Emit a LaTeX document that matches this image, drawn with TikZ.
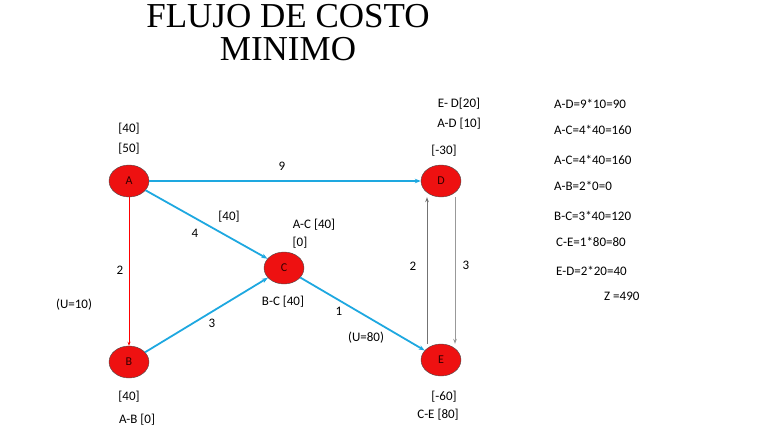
\documentclass[tikz,border=0pt]{standalone}
\usepackage{fontspec}
\setmainfont{Carlito}
\newfontfamily\titlefont{Liberation Serif}
\usetikzlibrary{arrows.meta,shapes.geometric}
\definecolor{nodered}{HTML}{EE1111}
\definecolor{flowblue}{HTML}{1EA8E0}
\begin{document}
\begin{tikzpicture}[x=1pt,y=-1pt,
  vtx/.style={ellipse,draw=black!70,fill=nodered,minimum width=40pt,minimum height=32pt,inner sep=0pt,font=\fontsize{12}{14}\selectfont,text=black!80!red},
  lbl/.style={font=\fontsize{13}{15}\selectfont,inner sep=1pt},
  blue/.style={draw=flowblue,line width=1.8pt,-{Stealth[length=6pt]}},
  thin/.style={draw=gray!80,line width=0.8pt,-{Stealth[length=5pt]}}]
\useasboundingbox (0,0) rectangle (768,433);
\node[font=\titlefont\fontsize{35}{33}\selectfont,align=center] (title) at (288,33) {FLUJO DE COSTO\\MINIMO};
\node[vtx] (A) at (129,181) {A};
\node[vtx] (B) at (129,362) {B};
\node[vtx] (C) at (284,268) {C};
\node[vtx] (D) at (441,181) {D};
\node[vtx] (E) at (441,360) {E};
\draw[blue] (A) -- (D);
\draw[blue] (A) -- (C);
\draw[blue] (B) -- (C);
\draw[blue] (C) -- (E);
\draw[draw=red,line width=0.6pt,-{Stealth[length=4pt]}] (A) -- (B);
\draw[thin,draw=gray!90!black] ([xshift=-14pt]E.north) -- ([xshift=-14pt]D.south);
\draw[thin] ([xshift=14pt]D.south) -- ([xshift=14pt]E.north);
\node[lbl] (l1) at (129,129) {[40]};
\node[lbl] (l2) at (129,149) {[50]};
\node[lbl] (l3) at (282,166) {9};
\node[lbl] (l4) at (229,217) {[40]};
\node[lbl] (l5) at (195,233) {4};
\node[lbl] (l6) at (314,225) {A-C [40]};
\node[lbl] (l7) at (300,243) {[0]};
\node[lbl] (l8) at (120,270) {2};
\node[lbl] (l9) at (74,305) {(U=10)};
\node[lbl] (l10) at (212,323) {3};
\node[lbl] (l11) at (283,302) {B-C [40]};
\node[lbl] (l12) at (339,311) {1};
\node[lbl] (l13) at (366,338) {(U=80)};
\node[lbl] (l14) at (129,397) {[40]};
\node[lbl] (l15) at (137,420) {A-B [0]};
\node[lbl] (l16) at (459,104) {E- D[20]};
\node[lbl] (l17) at (459,124) {A-D [10]};
\node[lbl] (l18) at (444,151) {[-30]};
\node[lbl] (l19) at (413,266) {2};
\node[lbl] (l20) at (466,265) {3};
\node[lbl] (l21) at (444,397) {[-60]};
\node[lbl] (l22) at (438,415) {C-E [80]};
\node[lbl,anchor=west] (r1) at (553,104) {A-D=9*10=90};
\node[lbl,anchor=west] (r2) at (553,130) {A-C=4*40=160};
\node[lbl,anchor=west] (r3) at (553,160) {A-C=4*40=160};
\node[lbl,anchor=west] (r4) at (553,186) {A-B=2*0=0};
\node[lbl,anchor=west] (r5) at (553,216) {B-C=3*40=120};
\node[lbl,anchor=west] (r6) at (555,242) {C-E=1*80=80};
\node[lbl,anchor=west] (r7) at (555,271) {E-D=2*20=40};
\node[lbl,anchor=west] (r8) at (603,296) {Z =490};
\end{tikzpicture}
\end{document}
